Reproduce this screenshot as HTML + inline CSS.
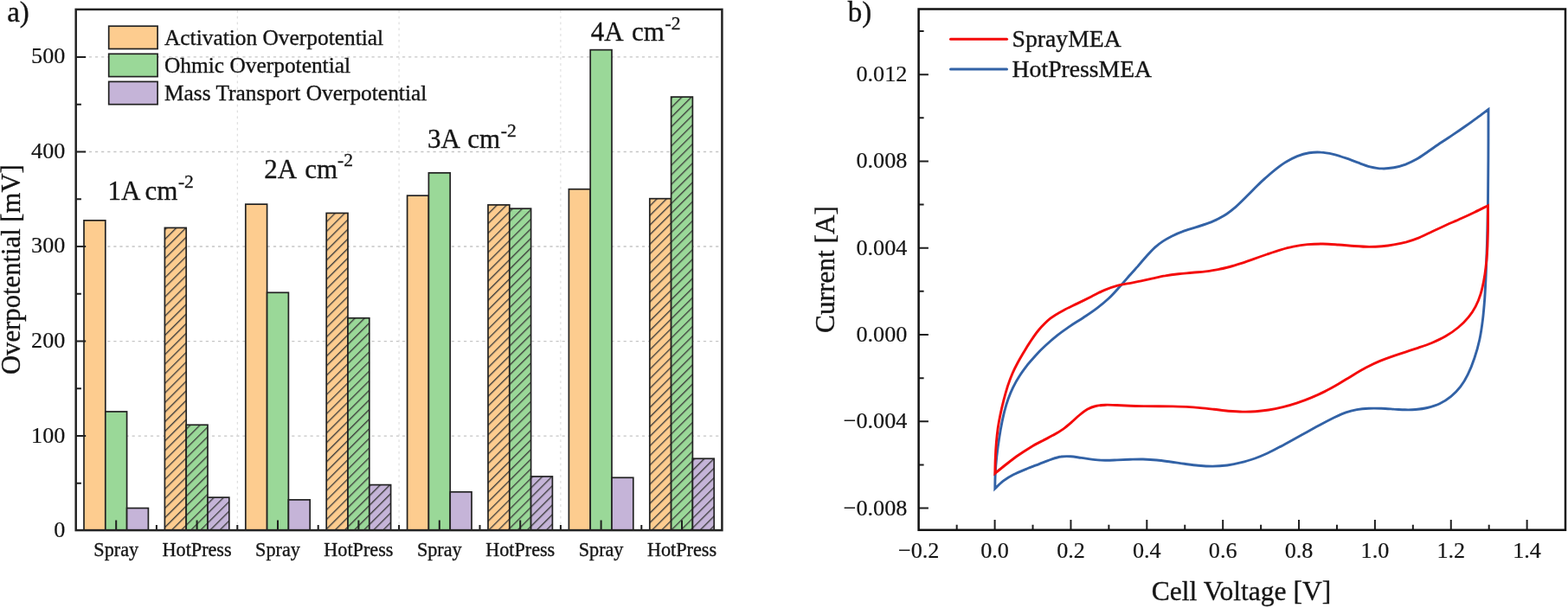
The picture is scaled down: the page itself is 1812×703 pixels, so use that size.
<!DOCTYPE html>
<html><head><meta charset="utf-8"><title>Overpotential and CV</title><style>html,body{margin:0;padding:0;background:#fff;width:1812px;height:703px;overflow:hidden}svg{display:block;filter:blur(0.45px)}text{font-family:"Liberation Serif","Times New Roman",serif}</style></head><body>
<svg width="1812" height="703" viewBox="0 0 1812 703">
<defs>
<pattern id="ho" patternUnits="userSpaceOnUse" width="7.85" height="7.85" patternTransform="rotate(45)"><rect width="7.85" height="7.85" fill="#FDCC8F"/><line x1="0.7" y1="0" x2="0.7" y2="7.85" stroke="#3a3a3a" stroke-width="1.35"/></pattern>
<pattern id="hg" patternUnits="userSpaceOnUse" width="7.85" height="7.85" patternTransform="rotate(45)"><rect width="7.85" height="7.85" fill="#9AD898"/><line x1="0.7" y1="0" x2="0.7" y2="7.85" stroke="#3a3a3a" stroke-width="1.35"/></pattern>
<pattern id="hp" patternUnits="userSpaceOnUse" width="7.85" height="7.85" patternTransform="rotate(45)"><rect width="7.85" height="7.85" fill="#C5B4D8"/><line x1="0.7" y1="0" x2="0.7" y2="7.85" stroke="#3a3a3a" stroke-width="1.35"/></pattern>
</defs>
<rect width="1812" height="703" fill="#fff"/>
<line x1="88.7" y1="504.07" x2="833.4" y2="504.07" stroke="#c6c6c6" stroke-width="1.3" stroke-dasharray="3.2 3.9"/>
<line x1="88.7" y1="394.54" x2="833.4" y2="394.54" stroke="#c6c6c6" stroke-width="1.3" stroke-dasharray="3.2 3.9"/>
<line x1="88.7" y1="285.01" x2="833.4" y2="285.01" stroke="#c6c6c6" stroke-width="1.3" stroke-dasharray="3.2 3.9"/>
<line x1="88.7" y1="175.48" x2="833.4" y2="175.48" stroke="#c6c6c6" stroke-width="1.3" stroke-dasharray="3.2 3.9"/>
<line x1="88.7" y1="65.95" x2="833.4" y2="65.95" stroke="#c6c6c6" stroke-width="1.3" stroke-dasharray="3.2 3.9"/>
<line x1="274.30" y1="11.9" x2="274.30" y2="612.1" stroke="#d8d8d8" stroke-width="1" stroke-dasharray="2.8 4"/>
<line x1="461.10" y1="11.9" x2="461.10" y2="612.1" stroke="#d8d8d8" stroke-width="1" stroke-dasharray="2.8 4"/>
<line x1="647.90" y1="11.9" x2="647.90" y2="612.1" stroke="#d8d8d8" stroke-width="1" stroke-dasharray="2.8 4"/>
<rect x="97.00" y="254.86" width="24.80" height="358.24" fill="#FDCC8F" stroke="#222222" stroke-width="1.7"/>
<rect x="121.80" y="475.94" width="24.80" height="137.16" fill="#9AD898" stroke="#222222" stroke-width="1.7"/>
<rect x="146.60" y="587.52" width="24.80" height="25.58" fill="#C5B4D8" stroke="#222222" stroke-width="1.7"/>
<rect x="190.40" y="263.40" width="24.80" height="349.70" fill="url(#ho)" stroke="#222222" stroke-width="1.7"/>
<rect x="215.20" y="491.27" width="24.80" height="121.83" fill="url(#hg)" stroke="#222222" stroke-width="1.7"/>
<rect x="240.00" y="575.15" width="24.80" height="37.95" fill="url(#hp)" stroke="#222222" stroke-width="1.7"/>
<rect x="283.80" y="236.14" width="24.80" height="376.96" fill="#FDCC8F" stroke="#222222" stroke-width="1.7"/>
<rect x="308.60" y="338.30" width="24.80" height="274.80" fill="#9AD898" stroke="#222222" stroke-width="1.7"/>
<rect x="333.40" y="577.89" width="24.80" height="35.21" fill="#C5B4D8" stroke="#222222" stroke-width="1.7"/>
<rect x="377.20" y="246.43" width="24.80" height="366.67" fill="url(#ho)" stroke="#222222" stroke-width="1.7"/>
<rect x="402.00" y="367.76" width="24.80" height="245.34" fill="url(#hg)" stroke="#222222" stroke-width="1.7"/>
<rect x="426.80" y="560.59" width="24.80" height="52.51" fill="url(#hp)" stroke="#222222" stroke-width="1.7"/>
<rect x="470.60" y="226.17" width="24.80" height="386.93" fill="#FDCC8F" stroke="#222222" stroke-width="1.7"/>
<rect x="495.40" y="199.89" width="24.80" height="413.21" fill="#9AD898" stroke="#222222" stroke-width="1.7"/>
<rect x="520.20" y="568.80" width="24.80" height="44.30" fill="#C5B4D8" stroke="#222222" stroke-width="1.7"/>
<rect x="564.00" y="236.91" width="24.80" height="376.19" fill="url(#ho)" stroke="#222222" stroke-width="1.7"/>
<rect x="588.80" y="241.18" width="24.80" height="371.92" fill="url(#hg)" stroke="#222222" stroke-width="1.7"/>
<rect x="613.60" y="550.95" width="24.80" height="62.15" fill="url(#hp)" stroke="#222222" stroke-width="1.7"/>
<rect x="657.40" y="218.73" width="24.80" height="394.37" fill="#FDCC8F" stroke="#222222" stroke-width="1.7"/>
<rect x="682.20" y="57.65" width="24.80" height="555.45" fill="#9AD898" stroke="#222222" stroke-width="1.7"/>
<rect x="707.00" y="552.27" width="24.80" height="60.83" fill="#C5B4D8" stroke="#222222" stroke-width="1.7"/>
<rect x="750.80" y="229.68" width="24.80" height="383.42" fill="url(#ho)" stroke="#222222" stroke-width="1.7"/>
<rect x="775.60" y="112.08" width="24.80" height="501.02" fill="url(#hg)" stroke="#222222" stroke-width="1.7"/>
<rect x="800.40" y="530.26" width="24.80" height="82.84" fill="url(#hp)" stroke="#222222" stroke-width="1.7"/>
<path d="M87.7 558.84h6.2M87.7 504.07h11.5M87.7 449.31h6.2M87.7 394.54h11.5M87.7 339.78h6.2M87.7 285.01h11.5M87.7 230.25h6.2M87.7 175.48h11.5M87.7 120.72h6.2M87.7 65.95h11.5M134.20 613.1v-11.5M180.90 613.1v-6.2M227.60 613.1v-11.5M274.30 613.1v-6.2M321.00 613.1v-11.5M367.70 613.1v-6.2M414.40 613.1v-11.5M461.10 613.1v-6.2M507.80 613.1v-11.5M554.50 613.1v-6.2M601.20 613.1v-11.5M647.90 613.1v-6.2M694.60 613.1v-11.5M741.30 613.1v-6.2M788.00 613.1v-11.5" stroke="#1f1f1f" stroke-width="2" fill="none"/>
<rect x="87.7" y="10.9" width="746.70" height="602.20" fill="none" stroke="#222" stroke-width="2.5"/>
<path d="M1105.67 612.8v-6M1149.60 612.8v-11.8M1193.53 612.8v-6M1237.46 612.8v-11.8M1281.39 612.8v-6M1325.32 612.8v-11.8M1369.25 612.8v-6M1413.18 612.8v-11.8M1457.11 612.8v-6M1501.04 612.8v-11.8M1544.97 612.8v-6M1588.90 612.8v-11.8M1632.83 612.8v-6M1676.76 612.8v-11.8M1720.69 612.8v-6M1764.62 612.8v-11.8M1061.6 587.56h11.3M1061.6 537.42h6M1061.6 487.28h11.3M1061.6 437.14h6M1061.6 387.00h11.3M1061.6 336.86h6M1061.6 286.72h11.3M1061.6 236.58h6M1061.6 186.44h11.3M1061.6 136.30h6M1061.6 86.16h11.3M1061.6 36.02h6" stroke="#1f1f1f" stroke-width="2" fill="none"/>
<rect x="1061.6" y="10.5" width="747.40" height="602.30" fill="none" stroke="#111" stroke-width="2.5"/>
<path d="M1149.8 565.0C1149.9 562.2 1149.8 554.5 1150.2 548.2C1150.5 542.0 1151.0 534.8 1151.8 527.8C1152.6 520.7 1153.7 512.6 1154.8 505.8C1155.8 498.9 1157.1 492.2 1158.2 486.8C1159.4 481.3 1160.3 477.1 1161.5 472.9C1162.6 468.6 1163.6 465.4 1165.1 461.2C1166.6 457.1 1168.4 452.6 1170.6 448.1C1172.8 443.6 1175.5 438.8 1178.3 434.5C1181.0 430.1 1184.1 426.1 1187.1 422.2C1190.1 418.4 1193.0 415.1 1196.4 411.4C1199.8 407.6 1203.4 403.9 1207.7 400.0C1211.9 396.1 1216.9 391.7 1221.7 387.9C1226.5 384.0 1231.6 380.6 1236.6 377.1C1241.6 373.7 1246.9 370.6 1252.0 367.2C1257.1 363.8 1262.5 360.3 1267.3 356.6C1272.2 353.0 1276.7 349.3 1281.0 345.3C1285.2 341.3 1289.2 336.8 1293.1 332.5C1297.0 328.3 1300.7 323.9 1304.2 319.8C1307.8 315.7 1311.2 312.0 1314.7 308.1C1318.1 304.1 1321.6 300.0 1324.9 296.3C1328.2 292.7 1331.4 289.0 1334.6 286.1C1337.8 283.2 1340.8 281.0 1344.0 278.9C1347.2 276.7 1350.2 275.1 1353.9 273.2C1357.6 271.4 1361.4 269.6 1366.2 267.9C1370.9 266.1 1376.9 264.4 1382.4 262.6C1387.9 260.8 1394.1 259.1 1399.5 256.9C1404.8 254.7 1409.5 252.5 1414.2 249.6C1419.0 246.6 1423.4 243.1 1427.9 239.3C1432.3 235.5 1436.7 230.9 1440.9 226.8C1445.1 222.7 1449.2 218.3 1453.1 214.5C1457.0 210.7 1460.7 207.4 1464.2 204.2C1467.8 201.0 1471.0 198.3 1474.7 195.4C1478.3 192.6 1482.0 189.7 1486.1 187.3C1490.1 184.8 1494.7 182.4 1499.1 180.6C1503.6 178.9 1508.2 177.6 1512.8 176.8C1517.3 176.0 1521.8 175.8 1526.4 176.1C1531.1 176.3 1535.8 177.2 1540.7 178.3C1545.5 179.5 1550.6 181.2 1555.5 182.9C1560.3 184.5 1565.0 186.6 1569.7 188.2C1574.3 189.9 1578.8 191.7 1583.3 192.8C1587.9 193.9 1592.4 194.8 1597.0 194.9C1601.6 195.1 1606.3 194.6 1610.8 193.8C1615.4 193.0 1619.9 191.7 1624.3 190.1C1628.6 188.4 1632.6 186.6 1637.0 184.1C1641.3 181.6 1645.9 178.2 1650.6 175.0C1655.3 171.8 1660.6 168.0 1665.4 164.8C1670.2 161.5 1675.0 158.5 1679.6 155.4C1684.3 152.3 1688.8 149.2 1693.3 146.0C1697.8 142.8 1702.3 139.6 1706.8 136.3C1711.2 133.1 1717.8 128.1 1720.0 126.5L1720.0 126.5C1720.0 135.9 1720.0 164.8 1719.9 182.6C1719.8 200.5 1719.7 217.8 1719.5 233.5C1719.3 249.2 1718.9 263.6 1718.6 277.1C1718.2 290.7 1717.8 303.6 1717.3 314.8C1716.8 326.0 1716.4 335.3 1715.8 344.4C1715.1 353.5 1714.5 361.4 1713.5 369.4C1712.5 377.5 1711.4 385.3 1709.8 392.8C1708.2 400.2 1706.2 407.3 1703.9 414.0C1701.7 420.7 1699.1 427.3 1696.3 432.8C1693.6 438.4 1690.9 443.0 1687.7 447.2C1684.4 451.5 1680.8 455.1 1676.8 458.3C1672.8 461.6 1668.2 464.5 1663.7 466.7C1659.1 468.9 1654.1 470.3 1649.4 471.5C1644.8 472.6 1640.1 473.1 1635.8 473.5C1631.5 473.9 1627.9 473.9 1623.7 473.8C1619.5 473.8 1615.4 473.3 1610.8 473.1C1606.3 472.8 1601.3 472.4 1596.4 472.2C1591.6 472.1 1586.4 472.0 1581.7 472.2C1576.9 472.4 1572.3 472.8 1568.0 473.6C1563.6 474.4 1559.8 475.3 1555.4 476.9C1551.1 478.4 1546.6 480.5 1541.8 482.8C1537.0 485.2 1531.6 488.0 1526.4 490.8C1521.2 493.5 1515.8 496.5 1510.5 499.4C1505.2 502.3 1499.8 505.3 1494.6 508.2C1489.4 511.1 1484.2 514.0 1479.2 516.6C1474.3 519.3 1469.7 521.8 1464.8 524.0C1460.0 526.2 1455.3 528.2 1450.3 530.0C1445.3 531.7 1440.1 533.4 1434.7 534.7C1429.4 536.0 1423.8 537.2 1418.2 538.0C1412.6 538.7 1406.8 539.1 1401.2 539.1C1395.6 539.1 1390.1 538.7 1384.7 538.2C1379.3 537.8 1374.0 537.0 1368.7 536.3C1363.4 535.6 1358.1 534.7 1352.8 534.0C1347.5 533.3 1342.2 532.5 1336.9 532.0C1331.6 531.5 1326.2 531.2 1320.9 531.0C1315.7 530.9 1310.4 531.1 1305.4 531.2C1300.4 531.4 1295.6 531.7 1290.8 531.9C1286.1 532.1 1281.6 532.4 1277.0 532.3C1272.4 532.2 1267.9 531.9 1263.3 531.4C1258.8 530.9 1254.0 530.0 1249.7 529.4C1245.3 528.8 1241.0 527.9 1237.2 527.7C1233.3 527.5 1230.0 527.4 1226.3 528.0C1222.7 528.5 1219.2 529.7 1215.0 531.1C1210.8 532.5 1206.2 534.4 1201.3 536.3C1196.5 538.2 1191.0 540.2 1186.0 542.3C1180.9 544.4 1175.6 546.5 1171.2 548.8C1166.7 551.1 1162.9 553.5 1159.3 556.2C1155.7 559.0 1151.4 563.5 1149.8 565.0Z" fill="none" stroke="#3262A6" stroke-width="2.9" stroke-linejoin="miter" stroke-miterlimit="3"/>
<path d="M1149.8 547.4C1149.9 544.4 1150.0 535.4 1150.3 529.4C1150.5 523.3 1150.9 517.0 1151.4 511.2C1151.9 505.5 1152.5 500.3 1153.2 495.0C1154.0 489.7 1154.9 484.8 1156.0 479.4C1157.1 474.0 1158.5 468.2 1159.9 462.7C1161.3 457.2 1162.9 451.5 1164.5 446.4C1166.2 441.3 1167.9 436.6 1169.8 432.2C1171.7 427.7 1173.8 423.6 1175.9 419.7C1178.0 415.7 1180.0 412.4 1182.3 408.5C1184.7 404.6 1186.8 400.8 1189.8 396.4C1192.8 391.9 1196.2 386.4 1200.2 381.7C1204.3 377.0 1209.0 372.1 1213.8 368.2C1218.7 364.4 1224.0 361.5 1229.2 358.7C1234.4 355.8 1239.8 353.6 1245.1 350.9C1250.4 348.3 1255.9 345.6 1261.1 343.0C1266.3 340.4 1271.5 337.4 1276.5 335.3C1281.4 333.2 1286.1 331.6 1290.8 330.3C1295.6 329.0 1300.2 328.5 1304.8 327.6C1309.5 326.7 1314.1 325.9 1318.7 324.9C1323.3 324.0 1327.7 322.8 1332.3 321.8C1337.0 320.8 1341.6 319.7 1346.6 318.9C1351.5 318.0 1356.7 317.3 1361.9 316.7C1367.1 316.1 1372.6 315.8 1377.8 315.3C1383.0 314.8 1388.3 314.5 1393.2 313.9C1398.1 313.2 1402.8 312.5 1407.4 311.6C1412.1 310.8 1416.5 309.7 1421.1 308.5C1425.6 307.3 1430.0 305.9 1434.7 304.4C1439.4 302.9 1444.2 301.1 1449.1 299.4C1454.0 297.6 1459.3 295.7 1464.3 294.0C1469.3 292.3 1474.2 290.6 1479.2 289.1C1484.3 287.6 1489.3 286.2 1494.6 285.2C1499.9 284.1 1505.4 283.2 1511.1 282.6C1516.8 282.1 1522.7 282.0 1528.7 282.0C1534.7 282.1 1540.8 282.6 1546.9 283.0C1553.0 283.4 1559.2 284.1 1565.1 284.5C1571.0 284.9 1576.9 285.3 1582.2 285.4C1587.5 285.4 1592.2 285.2 1597.0 284.8C1601.8 284.4 1606.2 283.8 1610.8 282.9C1615.5 282.1 1620.3 281.2 1625.2 279.9C1630.0 278.5 1634.8 276.8 1639.9 274.8C1645.0 272.7 1650.1 270.0 1655.5 267.5C1660.9 265.0 1666.7 262.3 1672.2 259.8C1677.8 257.3 1683.4 255.0 1688.7 252.5C1694.1 250.1 1699.3 247.7 1704.4 245.2C1709.5 242.8 1717.0 239.0 1719.5 237.8L1719.5 237.8C1719.5 241.2 1719.5 251.9 1719.5 258.2C1719.5 264.5 1719.4 270.1 1719.2 275.8C1719.1 281.5 1718.9 287.1 1718.5 292.6C1718.2 298.2 1717.7 303.7 1717.0 309.1C1716.4 314.5 1715.6 319.9 1714.6 325.1C1713.6 330.3 1712.5 335.6 1710.9 340.4C1709.4 345.3 1707.6 350.0 1705.2 354.4C1702.9 358.8 1700.3 362.9 1696.9 366.9C1693.6 370.9 1689.7 374.9 1685.3 378.5C1680.9 382.2 1675.6 385.8 1670.5 388.8C1665.4 391.8 1659.8 394.3 1654.6 396.5C1649.4 398.7 1644.2 400.4 1639.2 402.1C1634.3 403.8 1629.7 405.2 1624.8 406.8C1620.0 408.3 1615.3 409.8 1610.3 411.6C1605.3 413.3 1600.0 415.2 1594.7 417.4C1589.4 419.6 1584.0 422.2 1578.6 425.0C1573.2 427.8 1567.7 431.2 1562.4 434.4C1557.1 437.5 1551.9 441.0 1546.7 444.0C1541.5 447.0 1536.3 450.0 1531.0 452.6C1525.7 455.3 1520.4 457.6 1515.1 459.9C1509.8 462.1 1504.5 464.0 1499.1 465.9C1493.7 467.7 1488.2 469.3 1482.6 470.7C1477.1 472.0 1471.3 473.2 1466.0 474.0C1460.7 474.8 1455.9 475.4 1450.8 475.7C1445.8 476.1 1441.1 476.2 1435.9 476.1C1430.6 476.0 1424.9 475.6 1419.4 475.2C1413.9 474.7 1408.3 473.9 1402.9 473.3C1397.5 472.7 1392.2 472.1 1386.9 471.6C1381.6 471.1 1376.3 470.7 1371.0 470.4C1365.7 470.2 1360.4 470.0 1355.1 469.9C1349.8 469.8 1344.5 469.8 1339.1 469.8C1333.7 469.7 1328.2 469.7 1322.6 469.6C1317.1 469.5 1311.3 469.4 1306.0 469.2C1300.7 469.0 1295.6 468.7 1290.8 468.5C1286.1 468.4 1281.7 468.0 1277.6 468.2C1273.5 468.4 1269.7 468.6 1266.2 469.5C1262.7 470.3 1259.6 471.6 1256.5 473.3C1253.4 475.1 1250.4 477.5 1247.4 480.0C1244.4 482.5 1241.4 485.5 1238.3 488.2C1235.2 490.9 1232.1 493.7 1228.6 496.1C1225.1 498.6 1221.3 500.9 1217.2 503.1C1213.2 505.4 1208.6 507.5 1204.2 509.9C1199.7 512.2 1195.1 514.6 1190.5 517.4C1186.0 520.1 1181.4 523.1 1176.9 526.3C1172.3 529.5 1167.8 533.0 1163.3 536.5C1158.8 540.0 1152.0 545.6 1149.8 547.4Z" fill="none" stroke="#F40A0A" stroke-width="2.9" stroke-linejoin="miter" stroke-miterlimit="3"/>
<line x1="1098.5" y1="45.2" x2="1163.5" y2="45.2" stroke="#F40A0A" stroke-width="3" stroke-linecap="round"/>
<line x1="1098.5" y1="80" x2="1163.5" y2="80" stroke="#3262A6" stroke-width="3" stroke-linecap="round"/>
<g font-family="Liberation Serif, Times New Roman, serif" stroke="#151515" stroke-width="0.35">
<text x="8.2" y="25.0" font-size="33" text-anchor="start" fill="#151515" >a)</text>
<text x="979.8" y="25.0" font-size="33" text-anchor="start" fill="#151515" >b)</text>
<text x="75.4" y="621.0" font-size="26.2" text-anchor="end" fill="#151515" stroke-width="0.2">0</text>
<text x="75.4" y="511.5" font-size="26.2" text-anchor="end" fill="#151515" stroke-width="0.2">100</text>
<text x="75.4" y="401.9" font-size="26.2" text-anchor="end" fill="#151515" stroke-width="0.2">200</text>
<text x="75.4" y="292.4" font-size="26.2" text-anchor="end" fill="#151515" stroke-width="0.2">300</text>
<text x="75.4" y="182.9" font-size="26.2" text-anchor="end" fill="#151515" stroke-width="0.2">400</text>
<text x="75.4" y="73.4" font-size="26.2" text-anchor="end" fill="#151515" stroke-width="0.2">500</text>
<text x="134.2" y="643.0" font-size="22.2" text-anchor="middle" fill="#151515" >Spray</text>
<text x="227.6" y="643.0" font-size="22.2" text-anchor="middle" fill="#151515" >HotPress</text>
<text x="321.0" y="643.0" font-size="22.2" text-anchor="middle" fill="#151515" >Spray</text>
<text x="414.4" y="643.0" font-size="22.2" text-anchor="middle" fill="#151515" >HotPress</text>
<text x="507.8" y="643.0" font-size="22.2" text-anchor="middle" fill="#151515" >Spray</text>
<text x="601.2" y="643.0" font-size="22.2" text-anchor="middle" fill="#151515" >HotPress</text>
<text x="694.6" y="643.0" font-size="22.2" text-anchor="middle" fill="#151515" >Spray</text>
<text x="788.0" y="643.0" font-size="22.2" text-anchor="middle" fill="#151515" >HotPress</text>
<text transform="translate(22.5 311.6) rotate(-90)" font-size="30.7" text-anchor="middle" fill="#151515">Overpotential [mV]</text>
<rect x="125.7" y="30.2" width="56.4" height="26.3" fill="#FDCC8F" stroke="#222" stroke-width="1.7"/>
<text x="190.0" y="52.0" font-size="25.4" text-anchor="start" fill="#151515" >Activation Overpotential</text>
<rect x="125.7" y="62.3" width="56.4" height="26.3" fill="#9AD898" stroke="#222" stroke-width="1.7"/>
<text x="190.0" y="84.1" font-size="25.4" text-anchor="start" fill="#151515" >Ohmic Overpotential</text>
<rect x="125.7" y="94.4" width="56.4" height="26.3" fill="#C5B4D8" stroke="#222" stroke-width="1.7"/>
<text x="190.0" y="116.2" font-size="25.4" text-anchor="start" fill="#151515" >Mass Transport Overpotential</text>
<text x="124.5" y="230.6" font-size="31" fill="#151515">1A <tspan dx="-1.0">cm</tspan><tspan font-size="21.5" dx="0.6" dy="-13.5">-2</tspan></text>
<text x="305.2" y="205.9" font-size="31" fill="#151515">2A <tspan dx="3.0">cm</tspan><tspan font-size="21.5" dx="0" dy="-13.5">-2</tspan></text>
<text x="494" y="171.1" font-size="31" fill="#151515">3A <tspan dx="2.3">cm</tspan><tspan font-size="21.5" dx="0.7" dy="-13.5">-2</tspan></text>
<text x="682.7" y="47.0" font-size="31" fill="#151515">4A <tspan dx="3.3">cm</tspan><tspan font-size="21.5" dx="0.7" dy="-13.5">-2</tspan></text>
<text x="1048.4" y="595.6" font-size="26.2" text-anchor="end" fill="#151515" stroke-width="0.2">−0.008</text>
<text x="1048.4" y="495.3" font-size="26.2" text-anchor="end" fill="#151515" stroke-width="0.2">−0.004</text>
<text x="1048.4" y="395.0" font-size="26.2" text-anchor="end" fill="#151515" stroke-width="0.2">0.000</text>
<text x="1048.4" y="294.7" font-size="26.2" text-anchor="end" fill="#151515" stroke-width="0.2">0.004</text>
<text x="1048.4" y="194.4" font-size="26.2" text-anchor="end" fill="#151515" stroke-width="0.2">0.008</text>
<text x="1048.4" y="94.2" font-size="26.2" text-anchor="end" fill="#151515" stroke-width="0.2">0.012</text>
<text x="1061.7" y="645.0" font-size="26.2" text-anchor="middle" fill="#151515" stroke-width="0.2">−0.2</text>
<text x="1149.6" y="645.0" font-size="26.2" text-anchor="middle" fill="#151515" stroke-width="0.2">0.0</text>
<text x="1237.5" y="645.0" font-size="26.2" text-anchor="middle" fill="#151515" stroke-width="0.2">0.2</text>
<text x="1325.3" y="645.0" font-size="26.2" text-anchor="middle" fill="#151515" stroke-width="0.2">0.4</text>
<text x="1413.2" y="645.0" font-size="26.2" text-anchor="middle" fill="#151515" stroke-width="0.2">0.6</text>
<text x="1501.0" y="645.0" font-size="26.2" text-anchor="middle" fill="#151515" stroke-width="0.2">0.8</text>
<text x="1588.9" y="645.0" font-size="26.2" text-anchor="middle" fill="#151515" stroke-width="0.2">1.0</text>
<text x="1676.8" y="645.0" font-size="26.2" text-anchor="middle" fill="#151515" stroke-width="0.2">1.2</text>
<text x="1764.6" y="645.0" font-size="26.2" text-anchor="middle" fill="#151515" stroke-width="0.2">1.4</text>
<text transform="translate(964.3 311.5) rotate(-90)" font-size="31.3" text-anchor="middle" fill="#151515">Current [A]</text>
<text x="1434.5" y="694.2" font-size="31.6" text-anchor="middle" fill="#151515" >Cell Voltage [V]</text>
<text x="1169.6" y="54.3" font-size="27.7" text-anchor="start" fill="#151515" >SprayMEA</text>
<text x="1169.6" y="89.0" font-size="27.7" text-anchor="start" fill="#151515" >HotPressMEA</text>
</g>
</svg>
</body></html>
